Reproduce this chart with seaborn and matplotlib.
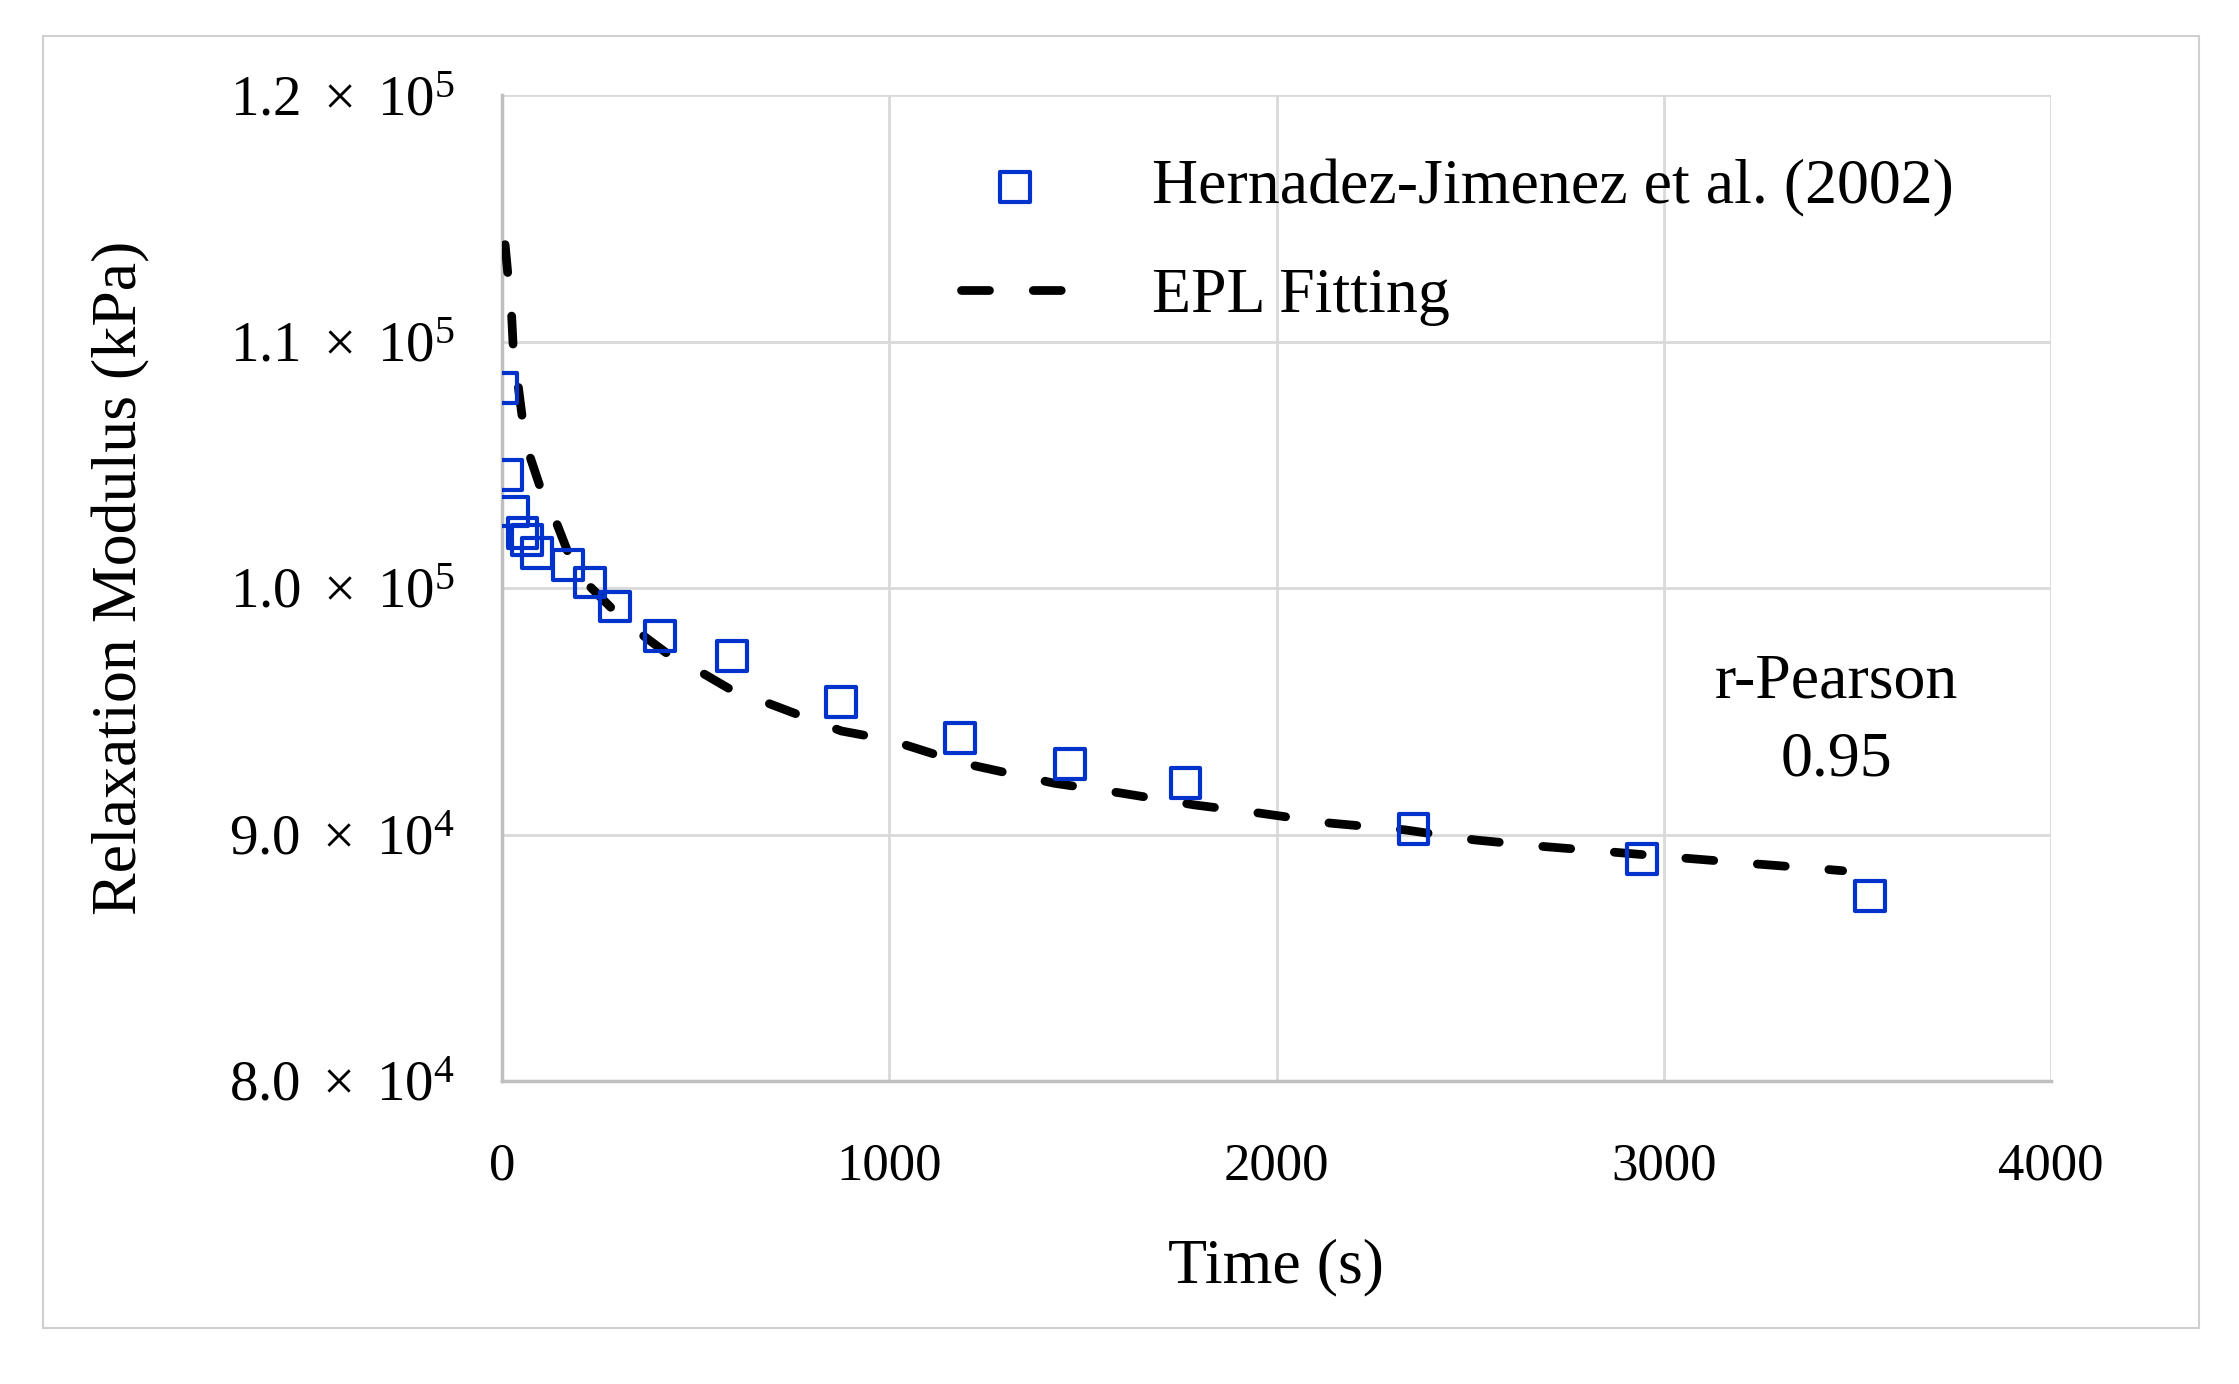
import numpy as np
import pandas as pd
import matplotlib
matplotlib.use("Agg")
import matplotlib.pyplot as plt
from matplotlib.patches import Rectangle
import seaborn as sns

# Experimental data (Hernadez-Jimenez et al. 2002)
exp_time = [0, 14, 29, 53, 64, 90, 171, 227, 292, 408, 593, 876, 1182, 1466, 1765, 2354, 2943, 3533]
exp_modulus = [108110, 104590, 103100, 102230, 101960, 101420, 100940, 100220, 99250, 98060,
               97250, 95360, 93910, 92870, 92080, 90230, 89000, 87510]

# EPL fitting curve
fit_time = [8, 16, 25, 29, 42, 53, 72, 98, 141, 171, 227, 283, 356, 425, 511, 584, 876, 1000,
            1191, 1426, 1599, 1788, 1960, 2140, 2331, 2512, 2692, 2873, 3055, 3235, 3417, 3462]
fit_modulus = [113930, 112580, 111020, 109740, 108180, 106830, 105340, 104120, 102630, 101420,
               100060, 99180, 98170, 97360, 96610, 95940, 94200, 93840, 92890, 92080, 91680,
               91200, 90860, 90460, 90190, 89780, 89510, 89280, 89040, 88810, 88590, 88530]

x_ticks = [0, 1000, 2000, 3000, 4000]
y_ticks = [80000, 90000, 100000, 110000, 120000]
y_tick_labels = [r"$8.0\ \times\ 10^{4}$", r"$9.0\ \times\ 10^{4}$", r"$1.0\ \times\ 10^{5}$",
                 r"$1.1\ \times\ 10^{5}$", r"$1.2\ \times\ 10^{5}$"]

sns.set_theme(style="white")
plt.rcParams['font.family'] = ['Liberation Serif', 'DejaVu Serif']
plt.rcParams['text.color'] = 'black'
plt.rcParams['mathtext.fontset'] = 'custom'
plt.rcParams['mathtext.rm'] = 'Liberation Serif'
plt.rcParams['mathtext.it'] = 'Liberation Serif:italic'
plt.rcParams['mathtext.bf'] = 'Liberation Serif:bold'

W, H = 2239, 1384
fig = plt.figure(figsize=(W / 100, H / 100), dpi=100)
ax = fig.add_axes([502 / W, 1 - 1081 / H, (2051 - 502) / W, (1081 - 95) / H])

exp_df = pd.DataFrame({"t": exp_time, "E": exp_modulus})
fit_df = pd.DataFrame({"t": fit_time, "E": fit_modulus})

sns.lineplot(data=fit_df, x="t", y="E", ax=ax, color="black", lw=6.3, label="EPL Fitting",
             zorder=3, sort=False)
line = ax.lines[-1]
line.set_dashes([3.2, 5.0])
line.set_dash_capstyle("round")

sns.scatterplot(data=exp_df, x="t", y="E", ax=ax, marker="s", s=460, facecolors="none",
                edgecolors="#0033CC", linewidths=3.0, label="Hernadez-Jimenez et al. (2002)",
                zorder=4)

ax.set_xlim(0, 4000)
ax.set_ylim(80000, 120000)
ax.set_xticks(x_ticks)
ax.set_xticklabels([str(v) for v in x_ticks])
ax.set_yticks(y_ticks)
ax.set_yticklabels(y_tick_labels)
ax.tick_params(axis="both", length=0, labelsize=38, colors="black")
ax.tick_params(axis="y", pad=34, labelsize=41)
ax.tick_params(axis="x", pad=44)
ax.grid(True, color="#d9d9d9", lw=2.0)
ax.set_axisbelow(True)
for side in ["top", "right"]:
    ax.spines[side].set_visible(False)
for side in ["left", "bottom"]:
    ax.spines[side].set_color("#bfbfbf")
    ax.spines[side].set_linewidth(2.5)
ax.set_xlabel("")
ax.set_ylabel("")

handles, labels = ax.get_legend_handles_labels()
order = [labels.index("Hernadez-Jimenez et al. (2002)"), labels.index("EPL Fitting")]
leg = ax.legend([handles[i] for i in order], [labels[i] for i in order],
                loc="upper left", bbox_to_anchor=(0.296, 0.935), frameon=False, fontsize=46,
                borderpad=0, handlelength=1.7, handletextpad=1.3, labelspacing=0.78,
                borderaxespad=0)
for t in leg.get_texts():
    t.set_color("black")

ax.text(3445, 94600, "r-Pearson\n0.95", ha="center", va="center", fontsize=46,
        linespacing=1.45, color="black")

fig.text(121 / W, 1 - 578 / H, "Relaxation Modulus (kPa)", rotation=90, ha="center",
         va="center", fontsize=46, color="black")
fig.text(1276 / W, 1 - 1267 / H, "Time (s)", ha="center", va="center", fontsize=46,
         color="black")

fig.patches.append(Rectangle((43 / W, 1 - 1328 / H), (2199 - 43) / W, (1328 - 36) / H,
                             transform=fig.transFigure, fill=False, ec="#d0d0d0", lw=1.5))

fig.savefig("out.png", dpi=100, facecolor="white")
